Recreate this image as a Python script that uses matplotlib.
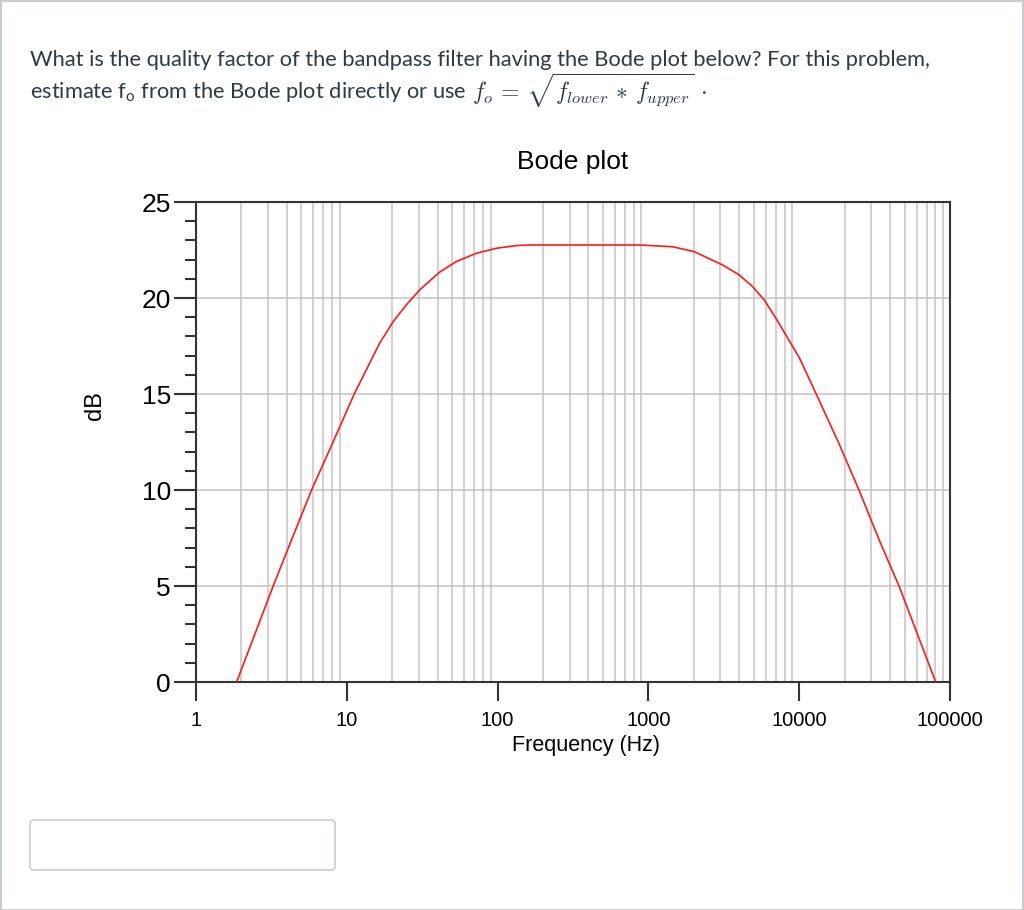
import matplotlib
matplotlib.use('Agg')
import matplotlib.pyplot as plt
from matplotlib.patches import Rectangle, FancyBboxPatch
from matplotlib.ticker import LogLocator, FixedLocator, NullFormatter

# Data
freq_hz = [1.86, 3.25, 4.2, 5.84, 7.7, 11.2, 16.5, 20.3, 24.8, 30.4, 41.3,
           53.3, 72.3, 98, 133, 163, 871, 1449, 2018, 3105, 4006, 4912, 5867,
           7013, 8166, 10000, 12970, 18400, 24900, 33900, 45900, 80400]
gain_db = [0, 5, 7.2, 10, 12.1, 15.0, 17.64, 18.77, 19.64, 20.42, 21.35,
           21.9, 22.33, 22.59, 22.73, 22.76, 22.76, 22.67, 22.41, 21.72, 21.2, 20.59, 19.9,
           18.94, 18.07, 16.9, 15.0, 12.4, 10, 7.4, 5, 0]
x_ticks = [1, 10, 100, 1000, 10000, 100000]
x_labels = ['1', '10', '100', '1000', '10000', '100000']
y_ticks = [0, 5, 10, 15, 20, 25]

question_1 = 'What is the quality factor of the bandpass filter having the Bode plot below? For this problem,'
question_2 = r'estimate f$_\mathregular{o}$ from the Bode plot directly or use'
formula = r'$f_o\, =\, \sqrt{f_{lower}\, *\, f_{upper}}$ $\cdot$'

W, H = 1024, 910
fig = plt.figure(figsize=(W / 100, H / 100), dpi=100)
fig.patch.set_facecolor('white')

# page frame and answer box
fig.patches.append(Rectangle((0.5 / W, 0.5 / H), 1 - 2 / W, 1 - 1.5 / H,
                             transform=fig.transFigure, fill=False,
                             edgecolor='#c7cdd1', linewidth=1.5))
fig.patches.append(FancyBboxPatch((30 / W, 1 - 870 / H), 305 / W, 50 / H,
                                  boxstyle='round,pad=0,rounding_size=0.004',
                                  transform=fig.transFigure, fill=False,
                                  edgecolor='#c7cdd1', linewidth=1.2))

text_color = '#2d3b45'
fig.text(30 / W, 1 - 60 / H, question_1, fontsize=15.75, family='Lato',
         color=text_color, va='center')
fig.text(30 / W, 1 - 92 / H, question_2, fontsize=15.75, family='Lato',
         color=text_color, va='center')
fig.text(472 / W, 1 - 100 / H, formula, fontsize=17, color=text_color,
         va='baseline', math_fontfamily='cm')

# plot area
ax = fig.add_axes([196 / W, 1 - 682 / H, 754 / W, 480 / H])
ax.plot(freq_hz, gain_db, color='#ff1a1a', linewidth=1.2, zorder=3)
ax.set_xscale('log')
ax.set_xlim(1, 100000)
ax.set_ylim(0, 25)

ax.xaxis.set_major_locator(FixedLocator(x_ticks))
ax.set_xticklabels(x_labels)
ax.xaxis.set_minor_locator(LogLocator(base=10, subs=range(2, 10)))
ax.xaxis.set_minor_formatter(NullFormatter())
ax.yaxis.set_major_locator(FixedLocator(y_ticks))
ax.yaxis.set_minor_locator(FixedLocator(range(0, 26)))

ax.grid(which='major', axis='y', color='#c4c4c4', linewidth=1.1, zorder=0)
ax.grid(which='minor', axis='x', color='#c4c4c4', linewidth=1.1, zorder=0)
ax.tick_params(axis='x', which='major', direction='out', length=14, width=1.5,
               color='#333333', labelsize=14.5, pad=7)
ax.tick_params(axis='x', which='minor', length=0)
ax.tick_params(axis='y', which='major', direction='out', length=16, width=1.5,
               color='#333333', labelsize=19, pad=2)
ax.tick_params(axis='y', which='minor', direction='out', length=8, width=1.5,
               color='#333333')
for lab in ax.get_xticklabels() + ax.get_yticklabels():
    lab.set_family('Liberation Sans')
for side in ax.spines.values():
    side.set_color('#333333')
    side.set_linewidth(1.5)

fig.text(573 / W, 1 - 162 / H, 'Bode plot', fontsize=19, family='Liberation Sans',
         ha='center', va='center')
fig.text(586 / W, 1 - 746 / H, 'Frequency (Hz)', fontsize=15.5,
         family='Liberation Sans', ha='center', va='center')
fig.text(95 / W, 1 - 406 / H, 'dB', fontsize=17, family='Liberation Sans',
         rotation=90, ha='center', va='center')

fig.savefig('out.png', dpi=100)
